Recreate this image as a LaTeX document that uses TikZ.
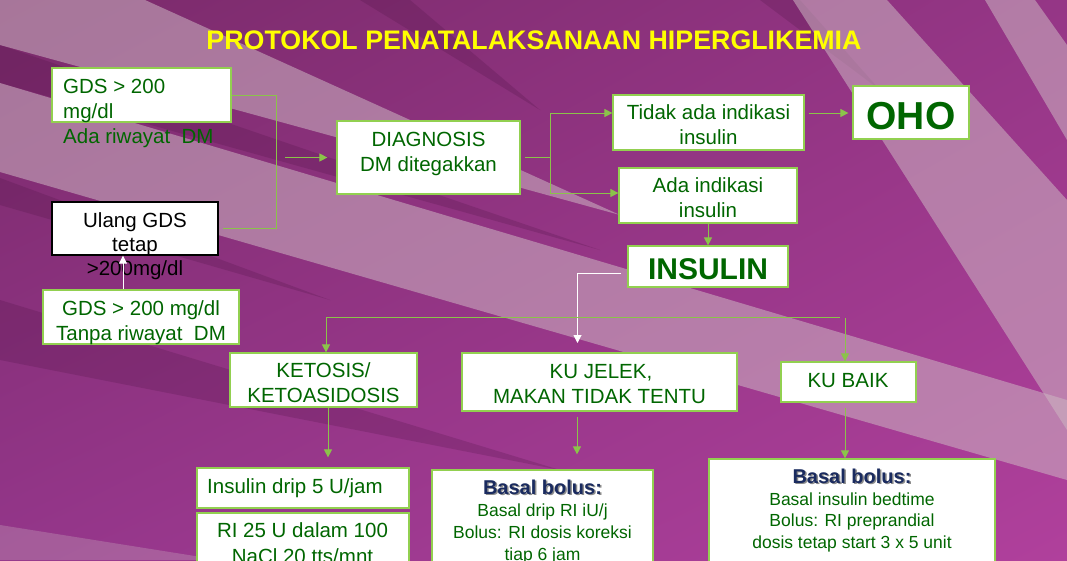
\documentclass[tikz,border=0pt]{standalone}
\usepackage{fontspec}
\setmainfont{Liberation Sans}
\usetikzlibrary{arrows.meta,shadings}
\definecolor{bgUL}{HTML}{7A2A6A}
\definecolor{bgUR}{HTML}{953686}
\definecolor{bgLL}{HTML}{94368A}
\definecolor{bgLR}{HTML}{B0409C}
\definecolor{bandlight}{HTML}{CDB6C2}
\definecolor{banddark}{HTML}{4A1040}
\definecolor{boxline}{HTML}{92D050}
\definecolor{arrowgreen}{HTML}{8BC34A}
\definecolor{txtgreen}{HTML}{006600}
\definecolor{navy}{HTML}{1A2B5F}
\definecolor{titleyellow}{HTML}{FFFF00}
\begin{document}
\begin{tikzpicture}[x=1pt,y=-1pt,
  box/.style={draw=boxline,line width=1.2pt,fill=white,inner sep=0pt},
  blackbox/.style={draw=black,line width=1.4pt,fill=white,inner sep=0pt},
  txt/.style={anchor=base,inner sep=0pt,text=txtgreen,font=\fontsize{20.5}{24}\selectfont},
  ltxt/.style={txt,anchor=base west},
  btxt/.style={txt,text=black},
  stxt/.style={anchor=base,inner sep=0pt,text=txtgreen,font=\fontsize{17.5}{21}\selectfont},
  bbtxt/.style={anchor=base,inner sep=0pt,text=navy,font=\fontsize{20}{24}\selectfont\bfseries},
  bbshadow/.style={bbtxt,text=black!45},
  conn/.style={draw=arrowgreen,line width=1pt},
  arr/.style={conn,-{Triangle[length=8pt,width=8pt]}},
  warr/.style={draw=white,line width=1pt,-{Triangle[length=8pt,width=8pt]}},
  lband/.style={fill=bandlight,opacity=0.55},
  dband/.style={fill=banddark,opacity=0.22}]
\useasboundingbox (0,0) rectangle (1067,560);
\clip (0,0) rectangle (1067,560);
% background
\shade[upper left=bgUL,upper right=bgUR,lower left=bgLL,lower right=bgLR] (0,0) rectangle (1067,560);
\fill[dband] (0,45) -- (0,83) -- (600,250) -- cycle;
\fill[dband] (360,0) -- (410,0) -- (540,110) -- cycle;
\fill[dband] (760,0) -- (800,0) -- (880,90) -- cycle;
\fill[dband] (0,178) -- (0,205) -- (330,300) -- cycle;
\fill[dband] (0,300) -- (0,360) -- (560,470) -- cycle;
\fill[lband] (0,0) -- (145,0) -- (620,215) -- (0,45) -- cycle;
\fill[lband] (0,83) -- (1067,400) -- (1067,480) -- (0,172) -- cycle;
\fill[lband] (793,0) -- (887,0) -- (1067,200) -- (1067,430) -- cycle;
\fill[lband] (985,0) -- (1035,0) -- (1067,45) -- (1067,140) -- cycle;
\fill[lband,opacity=0.3] (0,525) -- (0,560) -- (220,560) -- cycle;

% title
\node[anchor=base,inner sep=0pt,text=titleyellow,font=\fontsize{26.8}{30}\selectfont\bfseries] (title) at (534,49) {PROTOKOL PENATALAKSANAAN HIPERGLIKEMIA};

% boxes
\node[box,minimum width=179pt,minimum height=54pt] (g1) at (141.5,95) {};
\node[blackbox,minimum width=166pt,minimum height=53pt] (ulang) at (135,228.5) {};
\node[box,minimum width=196pt,minimum height=54pt] (tanpa) at (141,317) {};
\node[box,minimum width=183pt,minimum height=73pt] (diag) at (428.5,157.5) {};
\node[box,minimum width=191pt,minimum height=55pt] (tidak) at (708.5,122.5) {};
\node[box,minimum width=116pt,minimum height=53pt] (oho) at (911,112.5) {};
\node[box,minimum width=178pt,minimum height=55pt] (ada) at (708,195.5) {};
\node[box,minimum width=160pt,minimum height=41pt] (insulin) at (708,266.5) {};
\node[box,minimum width=187pt,minimum height=54pt] (ketosis) at (323.5,380) {};
\node[box,minimum width=275pt,minimum height=58pt] (kujelek) at (599.5,382) {};
\node[box,minimum width=135pt,minimum height=40pt] (kubaik) at (848.5,382) {};
\node[box,minimum width=212pt,minimum height=40pt] (drip) at (303,488) {};
\node[box,minimum width=212pt,minimum height=87pt] (ri) at (303,556.5) {};
\node[box,minimum width=221pt,minimum height=130pt] (bmid) at (542.5,535) {};
\node[box,minimum width=286pt,minimum height=141pt] (bright) at (852,529.5) {};

% texts
\node[ltxt] (g1a) at (63,93) {GDS > 200};
\node[ltxt] (g1b) at (63,118) {mg/dl};
\node[ltxt] (g1c) at (63,143) {Ada riwayat\ \ DM};
\node[btxt] (ula) at (135,227) {Ulang GDS};
\node[btxt] (ulb) at (135,251) {tetap};
\node[btxt] (ulc) at (135,275) {>200mg/dl};
\node[txt] (ta) at (141,315) {GDS > 200 mg/dl};
\node[txt] (tb) at (141,340) {Tanpa riwayat\ \ DM};
\node[txt] (da) at (428.5,146.5) {DIAGNOSIS};
\node[txt] (db) at (428.5,171.5) {DM ditegakkan};
\node[txt] (tia) at (708.5,119) {Tidak ada indikasi};
\node[txt] (tib) at (708.5,144) {insulin};
\node[txt] (ada1) at (708,192.5) {Ada indikasi};
\node[txt] (ada2) at (708,217) {insulin};
\node[anchor=base,inner sep=0pt,text=txtgreen,font=\fontsize{39}{44}\selectfont\bfseries] (ohot) at (911,129.5) {OHO};
\node[anchor=base,inner sep=0pt,text=txtgreen,font=\fontsize{30}{34}\selectfont\bfseries] (inst) at (708,279.5) {INSULIN};
\node[txt] (ka) at (323.5,377) {KETOSIS/};
\node[txt] (kb) at (323.5,402) {KETOASIDOSIS};
\node[txt] (kja) at (601,378) {KU JELEK,};
\node[txt] (kjb) at (599.5,403) {MAKAN TIDAK TENTU};
\node[txt] (kbt) at (848,387) {KU BAIK};
\node[ltxt] (dript) at (207,493) {Insulin drip 5 U/jam};
\node[txt] (ria) at (302.5,537.5) {RI 25 U dalam 100};
\node[txt] (rib) at (302.5,563) {NaCl 20 tts/mnt};
\node[bbshadow] (bms) at (544,495.5) {Basal bolus:};
\node[bbtxt] (bma) at (542.5,494) {Basal bolus:};
\node[stxt] (bmb) at (542.5,516) {Basal drip RI iU/j};
\node[stxt] (bmc) at (542.5,538) {Bolus: RI dosis koreksi};
\node[stxt] (bmd) at (542.5,560) {tiap 6 jam};
\node[bbshadow] (brs) at (853.5,484.5) {Basal bolus:};
\node[bbtxt] (bra) at (852,483) {Basal bolus:};
\node[stxt] (brb) at (852,505) {Basal insulin bedtime};
\node[stxt] (brc) at (852,526.5) {Bolus: RI preprandial};
\node[stxt] (brd) at (852,548) {dosis tetap start 3 x 5 unit};

% connectors
\coordinate (j1) at (276,95);
\draw[conn,shorten >=4pt] (g1.east) -- (j1) |- (ulang.east);
\coordinate (a1) at (285,157.5);
\draw[arr,shorten >=9pt] (a1) -- (diag.west);
\coordinate (d0) at (525,157.5);
\coordinate (sp) at (550,157.5);
\draw[conn] (d0) -- (sp);
\draw[arr] (sp) |- (tidak.west |- 0,113);
\draw[arr] (sp) |- (ada.west |- 0,193);
\draw[arr,shorten <=4pt,shorten >=4pt] (tidak.east |- 0,113) -- (oho.west |- 0,113);
\draw[arr] (ada.south) -- (insulin.north);
\coordinate (w0) at (621,273);
\coordinate (w1) at (577.5,343);
\draw[warr] (w0) -| (w1);
\coordinate (bl) at (326,317.5);
\coordinate (br) at (840,317.5);
\coordinate (br2) at (845,318);
\draw[conn] (bl) -- (br);
\draw[arr] (bl) -- (bl |- ketosis.north);
\draw[arr] (br2) -- (br2 |- kubaik.north);
\draw[arr,shorten >=10pt] (ketosis.south -| 328,0) -- (drip.north -| 328,0);
\draw[arr,shorten <=5pt,shorten >=15pt] (kujelek.south -| 577,0) -- (bmid.north -| 577,0);
\draw[arr,shorten <=5pt] (kubaik.south -| 845,0) -- (bright.north -| 845,0);
\draw[warr] (tanpa.north -| 123,0) -- (ulang.south -| 123,0);
\end{tikzpicture}
\end{document}
